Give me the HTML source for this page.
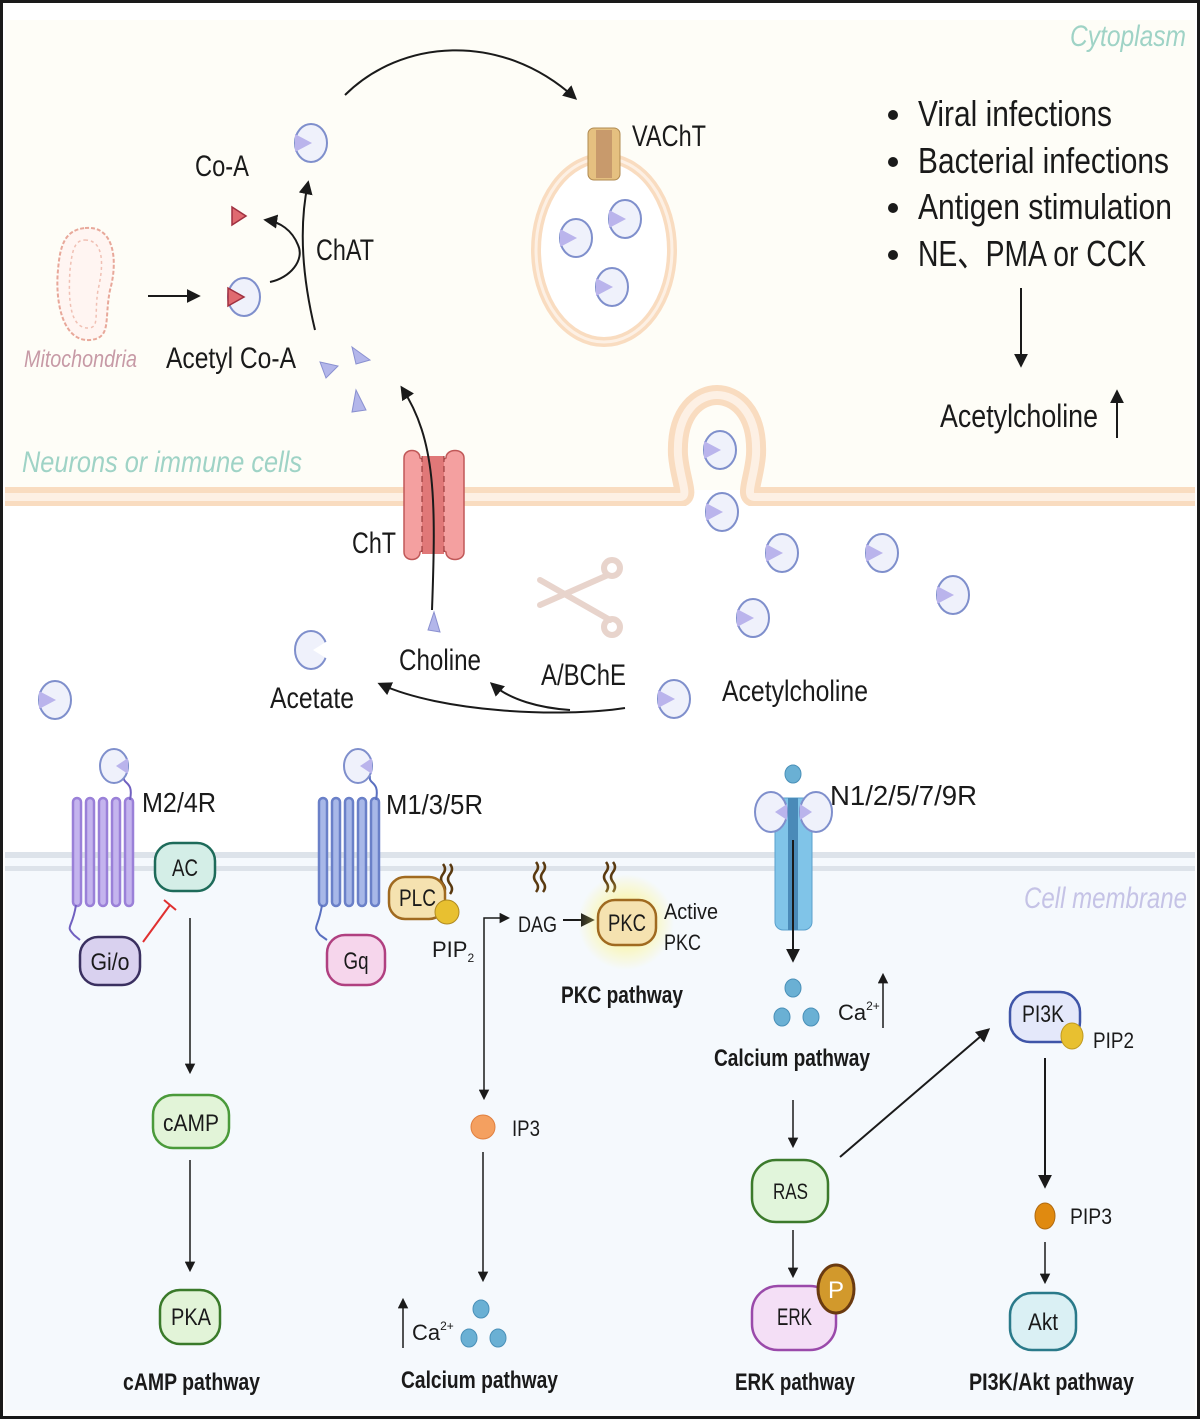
<!DOCTYPE html>
<html><head><meta charset="utf-8"><style>
html,body{margin:0;padding:0;background:#fff}
svg{display:block}
text{font-family:"Liberation Sans","Noto Sans CJK SC",sans-serif;fill:#1a1a1a}
.b{font-weight:bold}
</style></head><body>
<svg width="1200" height="1420" viewBox="0 0 1200 1420" xmlns="http://www.w3.org/2000/svg">
<defs>
<marker id="ar" viewBox="0 0 10 10" refX="8" refY="5" markerWidth="7" markerHeight="7" orient="auto-start-reverse"><path d="M0,0 L10,5 L0,10 z" fill="#1a1a1a"/></marker>
<g id="ach"><ellipse cx="0" cy="0" rx="16" ry="19" fill="#eff1fb" stroke="#7f8fcc" stroke-width="2"/><path d="M-16,-9 L1,0 L-16,9 z" fill="#bab4ec"/></g>
<radialGradient id="glow"><stop offset="0" stop-color="#fff36a" stop-opacity="0.9"/><stop offset="1" stop-color="#fff36a" stop-opacity="0"/></radialGradient>
</defs>
<rect x="0" y="0" width="1200" height="1420" fill="#fff"/>
<rect x="5" y="20" width="1190" height="470" fill="#fefdf7"/>
<rect x="5" y="855" width="1190" height="555" fill="#f5f9fd"/>
<rect x="5" y="852" width="1190" height="6" fill="#dde3ea"/>
<rect x="5" y="866" width="1190" height="5" fill="#dde3ea"/>
<path d="M5,497 H680 C690,497 680,480 678,455 C676,410 700,395 717,395 C734,395 758,410 756,455 C754,480 744,497 755,497 H1195" fill="none" stroke="#f9dcc0" stroke-width="20"/>
<path d="M5,497 H680 C690,497 680,480 678,455 C676,410 700,395 717,395 C734,395 758,410 756,455 C754,480 744,497 755,497 H1195" fill="none" stroke="#fdf0e4" stroke-width="8"/>
<rect x="5" y="506" width="1190" height="344" fill="#fff"/>
<rect x="1.5" y="1.5" width="1197" height="1416" fill="none" stroke="#1a1a1a" stroke-width="3"/>

<text x="1070" y="46" font-size="30" font-style="italic" style="fill:#9fd3c6" textLength="116" lengthAdjust="spacingAndGlyphs">Cytoplasm</text>
<text x="22" y="472" font-size="30" font-style="italic" style="fill:#9fd3c6" textLength="280" lengthAdjust="spacingAndGlyphs">Neurons or immune cells</text>
<text x="1024" y="908" font-size="30" font-style="italic" style="fill:#c5c3e6" textLength="163" lengthAdjust="spacingAndGlyphs">Cell membrane</text>

<!-- mitochondria -->
<path d="M85,228 C115,225 118,262 110,290 C104,320 112,338 90,340 C62,342 55,300 58,270 C60,245 65,230 85,228 z" fill="#fff5f2" stroke="#e8a89a" stroke-width="2" stroke-dasharray="4 2"/>
<path d="M85,240 C104,240 104,265 98,290 C94,315 100,328 88,328 C70,328 68,300 70,270 C72,252 74,240 85,240 z" fill="none" stroke="#f0c0b4" stroke-width="1.5" stroke-dasharray="3 3"/>
<text x="24" y="367" font-size="24" font-style="italic" style="fill:#c79aa6" textLength="113" lengthAdjust="spacingAndGlyphs">Mitochondria</text>
<line x1="148" y1="296" x2="198" y2="296" stroke="#1a1a1a" stroke-width="2" marker-end="url(#ar)"/>
<use href="#ach" x="244" y="297"/>
<path d="M228,288 L244,297 L228,306 z" fill="#e06a70" stroke="#a03040" stroke-width="1.5"/>
<path d="M232,207 L246,216 L232,225 z" fill="#e06a70" stroke="#a03040" stroke-width="1.5"/>
<text x="195" y="176" font-size="30" textLength="54" lengthAdjust="spacingAndGlyphs">Co-A</text>
<text x="166" y="368" font-size="30" textLength="130" lengthAdjust="spacingAndGlyphs">Acetyl Co-A</text>
<path d="M270,282 C290,278 305,260 298,245 C292,230 280,222 266,220" fill="none" stroke="#1a1a1a" stroke-width="2" marker-end="url(#ar)"/>
<path d="M315,330 C303,280 298,230 308,183" fill="none" stroke="#1a1a1a" stroke-width="2" marker-end="url(#ar)"/>
<text x="316" y="260" font-size="30" textLength="58" lengthAdjust="spacingAndGlyphs">ChAT</text>
<use href="#ach" x="311" y="143"/>
<path d="M345,95 C400,40 500,30 575,98" fill="none" stroke="#1a1a1a" stroke-width="2" marker-end="url(#ar)"/>
<path d="M352,347 L370,360 L356,364 z" fill="#b3b6ea" stroke="#8a90d0"/>
<path d="M320,362 L338,366 L326,378 z" fill="#b3b6ea" stroke="#8a90d0"/>
<path d="M356,390 L366,410 L352,412 z" fill="#b3b6ea" stroke="#8a90d0"/>
<!-- vesicle -->
<ellipse cx="604" cy="250" rx="68" ry="92" fill="#fff" stroke="#f9dcc0" stroke-width="10"/>
<ellipse cx="604" cy="250" rx="68" ry="92" fill="none" stroke="#fdf0e4" stroke-width="3"/>
<rect x="588" y="128" width="32" height="52" rx="6" fill="#e5c080" stroke="#b08a50"/>
<rect x="596" y="130" width="16" height="48" fill="#c89a6c"/>
<text x="632" y="146" font-size="30" textLength="74" lengthAdjust="spacingAndGlyphs">VAChT</text>
<use href="#ach" x="576" y="238"/><use href="#ach" x="625" y="219"/><use href="#ach" x="612" y="287"/>

<g font-size="36">
<circle cx="893" cy="115" r="5" fill="#1a1a1a"/><text x="918" y="126" textLength="194" lengthAdjust="spacingAndGlyphs">Viral infections</text>
<circle cx="893" cy="162" r="5" fill="#1a1a1a"/><text x="918" y="173" textLength="251" lengthAdjust="spacingAndGlyphs">Bacterial infections</text>
<circle cx="893" cy="208" r="5" fill="#1a1a1a"/><text x="918" y="219" textLength="254" lengthAdjust="spacingAndGlyphs">Antigen stimulation</text>
<circle cx="893" cy="255" r="5" fill="#1a1a1a"/><text x="918" y="266" textLength="228" lengthAdjust="spacingAndGlyphs">NE、PMA or CCK</text>
</g>
<line x1="1021" y1="288" x2="1021" y2="365" stroke="#1a1a1a" stroke-width="2" marker-end="url(#ar)"/>
<text x="940" y="427" font-size="32" textLength="158" lengthAdjust="spacingAndGlyphs">Acetylcholine</text>
<line x1="1117" y1="438" x2="1117" y2="392" stroke="#1a1a1a" stroke-width="2" marker-end="url(#ar)"/>

<!-- ChT -->
<path d="M404,458 C404,448 420,448 420,458 C426,462 440,462 446,458 C446,448 464,448 464,458 V552 C464,562 446,562 446,552 C440,548 426,548 420,552 C420,562 404,562 404,552 z" fill="#f4a0a0" stroke="#c05858" stroke-width="1.5"/>
<rect x="422" y="456" width="22" height="98" fill="#e07878"/>
<line x1="422" y1="456" x2="422" y2="554" stroke="#8a3030" stroke-dasharray="6 4"/>
<line x1="444" y1="456" x2="444" y2="554" stroke="#8a3030" stroke-dasharray="6 4"/>
<text x="352" y="553" font-size="30" textLength="44" lengthAdjust="spacingAndGlyphs">ChT</text>
<path d="M432,610 C436,500 436,440 402,388" fill="none" stroke="#1a1a1a" stroke-width="2" marker-end="url(#ar)"/>
<path d="M428,630 L434,612 L440,632 z" fill="#b3b6ea" stroke="#8a90d0"/>
<text x="399" y="670" font-size="30" textLength="82" lengthAdjust="spacingAndGlyphs">Choline</text>
<g stroke="#e8d4cc" stroke-width="6" fill="none" stroke-linecap="round">
<line x1="540" y1="580" x2="610" y2="620"/><line x1="540" y1="605" x2="608" y2="575"/>
<circle cx="612" cy="568" r="8"/><circle cx="612" cy="627" r="8"/>
</g>
<text x="541" y="685" font-size="30" textLength="85" lengthAdjust="spacingAndGlyphs">A/BChE</text>
<path d="M625,708 C560,718 440,712 380,684" fill="none" stroke="#1a1a1a" stroke-width="2" marker-end="url(#ar)"/>
<path d="M570,710 C540,708 510,700 492,684" fill="none" stroke="#1a1a1a" stroke-width="2" marker-end="url(#ar)"/>
<text x="270" y="708" font-size="30" textLength="84" lengthAdjust="spacingAndGlyphs">Acetate</text>
<ellipse cx="311" cy="650" rx="16" ry="19" fill="#eff1fb" stroke="#7f8fcc" stroke-width="2"/>
<path d="M329,640 L313,650 L329,660 z" fill="#fff"/>
<use href="#ach" x="55" y="700"/>
<use href="#ach" x="674" y="699"/>
<text x="722" y="701" font-size="30" textLength="146" lengthAdjust="spacingAndGlyphs">Acetylcholine</text>
<use href="#ach" x="720" y="450"/><use href="#ach" x="722" y="512"/><use href="#ach" x="782" y="553"/><use href="#ach" x="882" y="553"/><use href="#ach" x="953" y="595"/><use href="#ach" x="753" y="618"/>

<!-- M2/4R -->
<g stroke="#9a80d8" stroke-width="2.5" fill="#c4b4ee">
<rect x="73" y="798" width="8" height="108" rx="4"/><rect x="86" y="798" width="8" height="108" rx="4"/><rect x="99" y="798" width="8" height="108" rx="4"/><rect x="112" y="798" width="8" height="108" rx="4"/><rect x="125" y="798" width="8" height="108" rx="4"/>
</g>
<path d="M76,905 C72,930 65,925 74,935 L80,940" fill="none" stroke="#7060c0" stroke-width="2"/>
<path d="M130,800 C134,780 122,785 124,776" fill="none" stroke="#7060c0" stroke-width="2"/>
<ellipse cx="114" cy="766" rx="14" ry="17" fill="#eff1fb" stroke="#7f8fcc" stroke-width="2"/>
<path d="M128,758 L116,766 L128,774 z" fill="#bab4ec"/>
<text x="142" y="812" font-size="28" textLength="74" lengthAdjust="spacingAndGlyphs">M2/4R</text>
<rect x="155" y="843" width="60" height="48" rx="18" fill="#d4eee7" stroke="#1e6b5a" stroke-width="2.5"/>
<text x="185" y="876" font-size="24" text-anchor="middle" textLength="26" lengthAdjust="spacingAndGlyphs">AC</text>
<rect x="80" y="937" width="60" height="48" rx="18" fill="#d9d1ef" stroke="#3a3060" stroke-width="2.5"/>
<text x="110" y="970" font-size="24" text-anchor="middle" textLength="39" lengthAdjust="spacingAndGlyphs">Gi/o</text>
<line x1="143" y1="942" x2="170" y2="905" stroke="#e03030" stroke-width="2"/>
<line x1="164" y1="900" x2="176" y2="910" stroke="#e03030" stroke-width="2"/>
<line x1="190" y1="918" x2="190" y2="1072" stroke="#1a1a1a" stroke-width="1.5" marker-end="url(#ar)"/>
<rect x="153" y="1095" width="76" height="53" rx="20" fill="#e2f4d8" stroke="#4a9a3a" stroke-width="2.5"/>
<text x="191" y="1131" font-size="24" text-anchor="middle" textLength="56" lengthAdjust="spacingAndGlyphs">cAMP</text>
<line x1="190" y1="1160" x2="190" y2="1270" stroke="#1a1a1a" stroke-width="1.5" marker-end="url(#ar)"/>
<rect x="160" y="1290" width="60" height="54" rx="20" fill="#e2f4d8" stroke="#3a7a2a" stroke-width="2.5"/>
<text x="191" y="1325" font-size="24" text-anchor="middle" textLength="40" lengthAdjust="spacingAndGlyphs">PKA</text>
<text x="123" y="1390" font-size="24" class="b" textLength="137" lengthAdjust="spacingAndGlyphs">cAMP pathway</text>

<!-- M1/3/5R -->
<g stroke="#6a80c8" stroke-width="2.5" fill="#a8b8e8">
<rect x="319" y="798" width="8" height="108" rx="4"/><rect x="332" y="798" width="8" height="108" rx="4"/><rect x="345" y="798" width="8" height="108" rx="4"/><rect x="358" y="798" width="8" height="108" rx="4"/><rect x="371" y="798" width="8" height="108" rx="4"/>
</g>
<path d="M322,905 C318,930 312,925 320,935 L327,940" fill="none" stroke="#5a70c0" stroke-width="2"/>
<path d="M376,800 C380,780 368,785 370,776" fill="none" stroke="#5a70c0" stroke-width="2"/>
<ellipse cx="358" cy="766" rx="14" ry="17" fill="#eff1fb" stroke="#7f8fcc" stroke-width="2"/>
<path d="M372,758 L360,766 L372,774 z" fill="#bab4ec"/>
<text x="386" y="814" font-size="28" textLength="97" lengthAdjust="spacingAndGlyphs">M1/3/5R</text>
<rect x="327" y="935" width="58" height="50" rx="18" fill="#f6d6ec" stroke="#b04080" stroke-width="2.5"/>
<text x="356" y="969" font-size="24" text-anchor="middle" textLength="25" lengthAdjust="spacingAndGlyphs">Gq</text>
<g stroke="#5a3a10" stroke-width="2.5" fill="none">
<path d="M443,864 q4,5 0,10 q-4,5 0,10 q4,5 0,10"/><path d="M450,864 q4,5 0,10 q-4,5 0,10 q4,5 0,10"/>
<path d="M536,862 q4,5 0,10 q-4,5 0,10 q4,5 0,10"/><path d="M543,862 q4,5 0,10 q-4,5 0,10 q4,5 0,10"/>
<path d="M606,862 q4,5 0,10 q-4,5 0,10 q4,5 0,10"/><path d="M613,862 q4,5 0,10 q-4,5 0,10 q4,5 0,10"/>
</g>
<rect x="389" y="877" width="56" height="42" rx="16" fill="#f5e2b0" stroke="#a06a20" stroke-width="2.5"/>
<text x="399" y="906" font-size="24" textLength="37" lengthAdjust="spacingAndGlyphs">PLC</text>
<circle cx="447" cy="912" r="12" fill="#e8c030" stroke="#b08a20"/>
<text x="432" y="957" font-size="22">PIP<tspan font-size="12" dy="5">2</tspan></text>
<path d="M484,1095 V918 H508" fill="none" stroke="#1a1a1a" stroke-width="1.5" marker-end="url(#ar)"/>
<line x1="484" y1="1095" x2="484" y2="1098" stroke="#1a1a1a" stroke-width="1.5" marker-end="url(#ar)"/>
<text x="518" y="932" font-size="22" textLength="39" lengthAdjust="spacingAndGlyphs">DAG</text>
<line x1="563" y1="920" x2="592" y2="920" stroke="#1a1a1a" stroke-width="2" marker-end="url(#ar)"/>
<circle cx="626" cy="922" r="48" fill="url(#glow)"/>
<rect x="598" y="900" width="58" height="45" rx="17" fill="#f5e2b0" stroke="#a06a20" stroke-width="2.5"/>
<text x="608" y="931" font-size="24" textLength="38" lengthAdjust="spacingAndGlyphs">PKC</text>
<text x="664" y="919" font-size="22" textLength="54" lengthAdjust="spacingAndGlyphs">Active</text>
<text x="664" y="950" font-size="22" textLength="37" lengthAdjust="spacingAndGlyphs">PKC</text>
<text x="561" y="1003" font-size="24" class="b" textLength="122" lengthAdjust="spacingAndGlyphs">PKC pathway</text>
<circle cx="483" cy="1127" r="12" fill="#f4a060" stroke="#e08040"/>
<text x="512" y="1136" font-size="22" textLength="28" lengthAdjust="spacingAndGlyphs">IP3</text>
<line x1="483" y1="1152" x2="483" y2="1280" stroke="#1a1a1a" stroke-width="1.5" marker-end="url(#ar)"/>
<line x1="403" y1="1348" x2="403" y2="1300" stroke="#1a1a1a" stroke-width="1.5" marker-end="url(#ar)"/>
<text x="412" y="1340" font-size="22">Ca<tspan font-size="12" dy="-10">2+</tspan></text>
<g fill="#6ab0d4" stroke="#4a90b8"><ellipse cx="481" cy="1309" rx="8" ry="9"/><ellipse cx="469" cy="1338" rx="8" ry="9"/><ellipse cx="498" cy="1338" rx="8" ry="9"/></g>
<text x="401" y="1388" font-size="24" class="b" textLength="157" lengthAdjust="spacingAndGlyphs">Calcium pathway</text>

<!-- nicotinic -->
<rect x="775" y="798" width="37" height="132" rx="8" fill="#80c4e8" stroke="#5aa0cc"/>
<rect x="788" y="798" width="10" height="132" fill="#4a8ab8"/>
<ellipse cx="793" cy="774" rx="8" ry="9" fill="#6ab0d4" stroke="#4a90b8"/>
<ellipse cx="771" cy="812" rx="16" ry="20" fill="#eff1fb" stroke="#7f8fcc" stroke-width="2"/>
<path d="M787,804 L775,812 L787,820 z" fill="#bab4ec"/>
<ellipse cx="816" cy="812" rx="16" ry="20" fill="#eff1fb" stroke="#7f8fcc" stroke-width="2"/>
<path d="M800,804 L812,812 L800,820 z" fill="#bab4ec"/>
<text x="830" y="805" font-size="28" textLength="147" lengthAdjust="spacingAndGlyphs">N1/2/5/7/9R</text>
<line x1="793" y1="840" x2="793" y2="960" stroke="#1a1a1a" stroke-width="2" marker-end="url(#ar)"/>
<g fill="#6ab0d4" stroke="#4a90b8"><ellipse cx="793" cy="988" rx="8" ry="9"/><ellipse cx="782" cy="1017" rx="8" ry="9"/><ellipse cx="811" cy="1017" rx="8" ry="9"/></g>
<text x="838" y="1020" font-size="22">Ca<tspan font-size="12" dy="-10">2+</tspan></text>
<line x1="883" y1="1028" x2="883" y2="975" stroke="#1a1a1a" stroke-width="1.5" marker-end="url(#ar)"/>
<text x="714" y="1066" font-size="24" class="b" textLength="156" lengthAdjust="spacingAndGlyphs">Calcium pathway</text>
<line x1="793" y1="1100" x2="793" y2="1146" stroke="#1a1a1a" stroke-width="1.5" marker-end="url(#ar)"/>
<rect x="752" y="1160" width="76" height="62" rx="24" fill="#e1f5db" stroke="#3c7a2c" stroke-width="2.5"/>
<text x="773" y="1199" font-size="22" textLength="35" lengthAdjust="spacingAndGlyphs">RAS</text>
<line x1="793" y1="1230" x2="793" y2="1276" stroke="#1a1a1a" stroke-width="1.5" marker-end="url(#ar)"/>
<rect x="752" y="1286" width="84" height="64" rx="26" fill="#f4dff6" stroke="#9a4aaa" stroke-width="2.5"/>
<text x="777" y="1325" font-size="24" textLength="35" lengthAdjust="spacingAndGlyphs">ERK</text>
<ellipse cx="836" cy="1289" rx="18" ry="24" fill="#d2992c" stroke="#6a3a10" stroke-width="3"/>
<text x="836" y="1298" font-size="24" text-anchor="middle" style="fill:#fff">P</text>
<text x="735" y="1390" font-size="24" class="b" textLength="120" lengthAdjust="spacingAndGlyphs">ERK pathway</text>
<line x1="840" y1="1157" x2="988" y2="1030" stroke="#1a1a1a" stroke-width="2" marker-end="url(#ar)"/>
<rect x="1010" y="992" width="70" height="50" rx="20" fill="#e4e8fa" stroke="#3f55a8" stroke-width="2.5"/>
<text x="1022" y="1022" font-size="24" textLength="42" lengthAdjust="spacingAndGlyphs">PI3K</text>
<ellipse cx="1072" cy="1036" rx="11" ry="13" fill="#e8c030" stroke="#c09a20"/>
<text x="1093" y="1048" font-size="22" textLength="41" lengthAdjust="spacingAndGlyphs">PIP2</text>
<line x1="1045" y1="1058" x2="1045" y2="1186" stroke="#1a1a1a" stroke-width="2" marker-end="url(#ar)"/>
<ellipse cx="1045" cy="1216" rx="10" ry="13" fill="#e08a10" stroke="#b06a10"/>
<text x="1070" y="1224" font-size="22" textLength="42" lengthAdjust="spacingAndGlyphs">PIP3</text>
<line x1="1045" y1="1242" x2="1045" y2="1282" stroke="#1a1a1a" stroke-width="1.5" marker-end="url(#ar)"/>
<rect x="1010" y="1293" width="66" height="57" rx="22" fill="#daf0f4" stroke="#2a7a8a" stroke-width="2.5"/>
<text x="1028" y="1330" font-size="24" textLength="30" lengthAdjust="spacingAndGlyphs">Akt</text>
<text x="969" y="1390" font-size="24" class="b" textLength="165" lengthAdjust="spacingAndGlyphs">PI3K/Akt pathway</text>
</svg>
</body></html>
